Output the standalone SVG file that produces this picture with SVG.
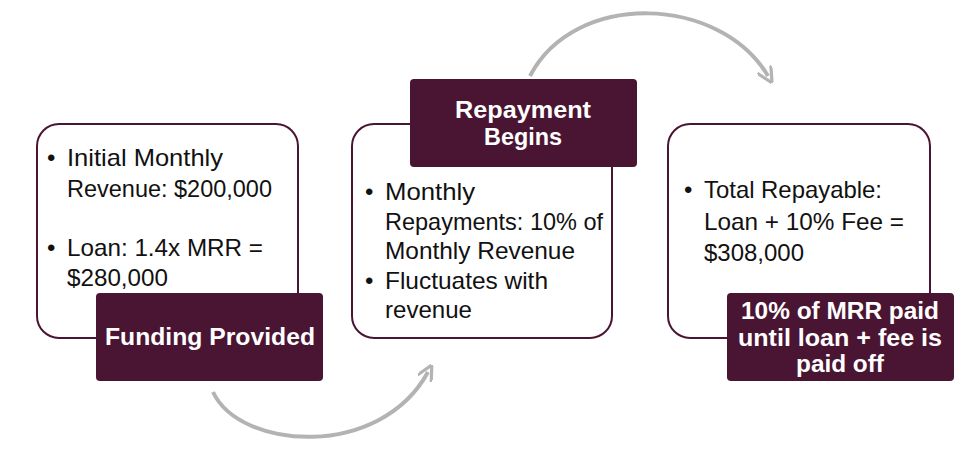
<svg xmlns="http://www.w3.org/2000/svg" width="970" height="466" viewBox="0 0 970 466">
<style>
.box{fill:#fff;stroke:#4a1532;stroke-width:2}
.lab{fill:#4a1532}
.t{font-family:"Liberation Sans",sans-serif;font-size:24px;fill:#111}
.w{font-family:"Liberation Sans",sans-serif;font-size:23px;font-weight:bold;fill:#fff;text-anchor:middle}
.arc{fill:none;stroke:#b3b3b3;stroke-width:4;marker-end:url(#ah)}
</style>
<defs><marker id="ah" viewBox="0 0 10 10" refX="5" refY="5" markerWidth="4" markerHeight="4" orient="auto"><path d="M0,0 L10,5 L0,10" fill="none" stroke="#b3b3b3" stroke-width="2"/></marker></defs>
<g id="connectors">
<path class="arc" d="M213,392 C240,450 380,460 428,372"/>
<path class="arc" d="M530,76 C575,-10 720,-5 768,76"/>
</g>
<g id="n1">
<rect class="box" x="37" y="124" width="261" height="214" rx="22"/>
<text class="t" x="47" y="166">•</text>
<text class="t" x="67" y="166" textLength="156" lengthAdjust="spacingAndGlyphs">Initial Monthly</text>
<text class="t" x="67" y="197" textLength="205" lengthAdjust="spacingAndGlyphs">Revenue: $200,000</text>
<text class="t" x="47" y="256">•</text>
<text class="t" x="67" y="256" textLength="196" lengthAdjust="spacingAndGlyphs">Loan: 1.4x MRR =</text>
<text class="t" x="67" y="286" textLength="101" lengthAdjust="spacingAndGlyphs">$280,000</text>
</g>
<g id="l1">
<rect class="lab" x="96" y="293" width="227" height="88" rx="4"/>
<text class="w" x="210" y="345" textLength="210" lengthAdjust="spacingAndGlyphs">Funding Provided</text>
</g>
<g id="n2">
<rect class="box" x="352" y="124" width="260" height="214" rx="22"/>
<text class="t" x="365" y="200">•</text>
<text class="t" x="385" y="200" textLength="90" lengthAdjust="spacingAndGlyphs">Monthly</text>
<text class="t" x="385" y="230" textLength="218" lengthAdjust="spacingAndGlyphs">Repayments: 10% of</text>
<text class="t" x="385" y="259" textLength="190" lengthAdjust="spacingAndGlyphs">Monthly Revenue</text>
<text class="t" x="365" y="289">•</text>
<text class="t" x="385" y="289" textLength="163" lengthAdjust="spacingAndGlyphs">Fluctuates with</text>
<text class="t" x="385" y="318" textLength="87" lengthAdjust="spacingAndGlyphs">revenue</text>
</g>
<g id="l2">
<rect class="lab" x="410" y="79" width="227" height="88" rx="4"/>
<text class="w" x="523" y="118" textLength="136" lengthAdjust="spacingAndGlyphs">Repayment</text>
<text class="w" x="523" y="145" textLength="78" lengthAdjust="spacingAndGlyphs">Begins</text>
</g>
<g id="n3">
<rect class="box" x="668" y="124" width="262" height="214" rx="22"/>
<text class="t" x="684" y="198">•</text>
<text class="t" x="704" y="198" textLength="178" lengthAdjust="spacingAndGlyphs">Total Repayable:</text>
<text class="t" x="704" y="230" textLength="200" lengthAdjust="spacingAndGlyphs">Loan + 10% Fee =</text>
<text class="t" x="704" y="261" textLength="100" lengthAdjust="spacingAndGlyphs">$308,000</text>
</g>
<g id="l3">
<rect class="lab" x="727" y="293" width="227" height="88" rx="4"/>
<text class="w" x="840" y="319" textLength="198" lengthAdjust="spacingAndGlyphs">10% of MRR paid</text>
<text class="w" x="840" y="346" textLength="204" lengthAdjust="spacingAndGlyphs">until loan + fee is</text>
<text class="w" x="840" y="372" textLength="88" lengthAdjust="spacingAndGlyphs">paid off</text>
</g>
</svg>
